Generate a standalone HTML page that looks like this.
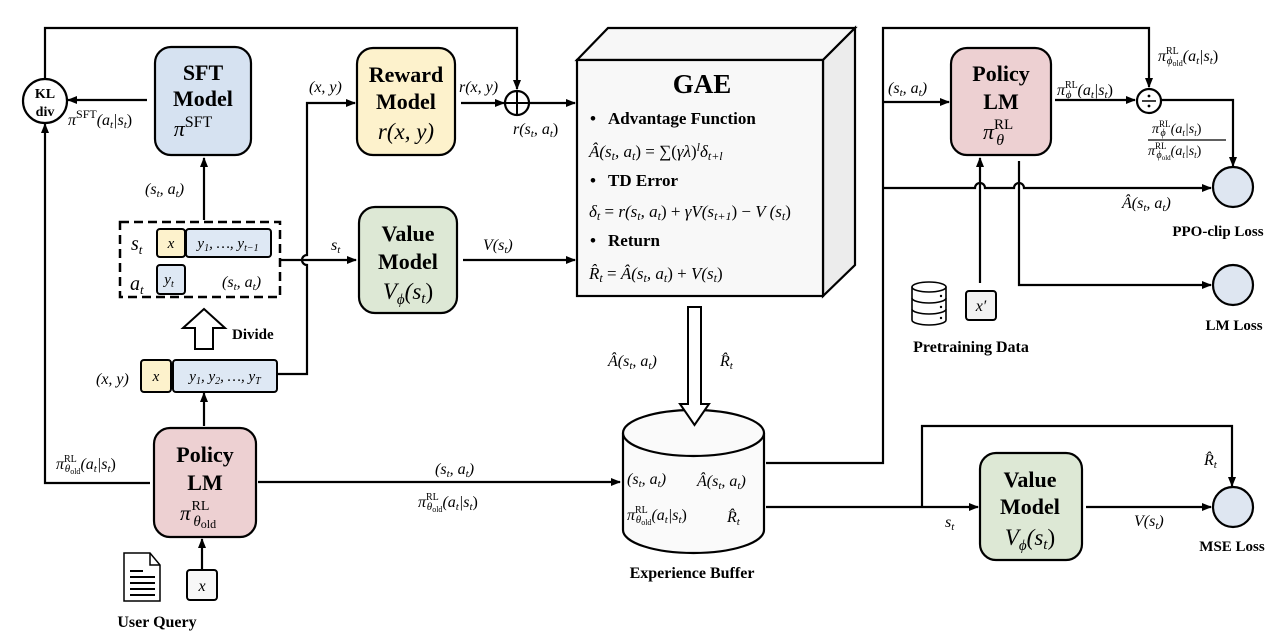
<!DOCTYPE html>
<html><head><meta charset="utf-8"><style>
html,body{margin:0;padding:0;background:#fff;width:1280px;height:638px;overflow:hidden}
svg text{font-family:"Liberation Serif",serif;fill:#000}
.b{font-weight:bold}
.i{font-style:italic}
</style></head><body>
<svg width="1280" height="638" viewBox="0 0 1280 638" xmlns="http://www.w3.org/2000/svg">
<defs>
<marker id="a" markerWidth="10" markerHeight="10" refX="9" refY="5" orient="auto" markerUnits="userSpaceOnUse">
<path d="M0,1 L10,5 L0,9 z" fill="#000"/></marker>
</defs>
<g fill="none" stroke="#000" stroke-width="2.2">
<path d="M45,79 V28 H517 V89" marker-end="url(#a)"/>
<path d="M147,100 H68" marker-end="url(#a)"/>
<path d="M150,483 H45 V124" marker-end="url(#a)"/>
<path d="M461,103 H504" marker-end="url(#a)"/>
<path d="M529,103 H575" marker-end="url(#a)"/>
<path d="M278,374 H307 V265 a5,5 0 0 1 0,-10 V103 H355" marker-end="url(#a)"/>
<path d="M281,260 H356" marker-end="url(#a)"/>
<path d="M463,260 H575" marker-end="url(#a)"/>
<path d="M204,220 V158" marker-end="url(#a)"/>
<path d="M204,426 V393" marker-end="url(#a)"/>
<path d="M202,569 V539" marker-end="url(#a)"/>
<path d="M258,482 H620" marker-end="url(#a)"/>
<path d="M766,463 H883 V28 H1149 V87" marker-end="url(#a)"/>
<path d="M883,102 H949" marker-end="url(#a)"/>
<path d="M883,188 H975 a5,5 0 0 1 10,0 H1014 a5,5 0 0 1 10,0 H1211" marker-end="url(#a)"/>
<path d="M1055,100 H1135" marker-end="url(#a)"/>
<path d="M1161,100 H1233 V166" marker-end="url(#a)"/>
<path d="M980,283 V158" marker-end="url(#a)"/>
<path d="M1019,161 V285 H1211" marker-end="url(#a)"/>
<path d="M766,507 H978" marker-end="url(#a)"/>
<path d="M922,507 V426 H1232 V486" marker-end="url(#a)"/>
<path d="M1086,507 H1211" marker-end="url(#a)"/>
</g>
<!-- KL circle -->
<circle cx="45" cy="101" r="22" fill="#fff" stroke="#000" stroke-width="2.2"/>
<text x="45" y="98" class="b" font-size="14" text-anchor="middle">KL</text>
<text x="45" y="116" class="b" font-size="14" text-anchor="middle">div</text>
<text x="68" y="125" font-size="16"><tspan class="i">π</tspan><tspan font-size="12" dy="-7">SFT</tspan><tspan dy="7" class="i">(a</tspan><tspan class="i" font-size="11" dy="3">t</tspan><tspan dy="-3" class="i">|s</tspan><tspan class="i" font-size="11" dy="3">t</tspan><tspan dy="-3">)</tspan></text>
<!-- SFT -->
<rect x="155" y="47" width="96" height="108" rx="16" fill="#d6e2f1" stroke="#000" stroke-width="2.2"/>
<text x="203" y="80" class="b" font-size="22" text-anchor="middle">SFT</text>
<text x="203" y="106" class="b" font-size="22" text-anchor="middle">Model</text>
<text x="193" y="136" font-size="22" text-anchor="middle"><tspan class="i">π</tspan><tspan font-size="16" dy="-9">SFT</tspan></text>
<!-- Reward -->
<rect x="357" y="48" width="98" height="107" rx="16" fill="#fdf2cc" stroke="#000" stroke-width="2.2"/>
<text x="406" y="82" class="b" font-size="22" text-anchor="middle">Reward</text>
<text x="406" y="109" class="b" font-size="22" text-anchor="middle">Model</text>
<text x="406" y="139" class="i" font-size="23" text-anchor="middle">r(x, y)</text>
<!-- Value -->
<rect x="359" y="207" width="98" height="106" rx="16" fill="#dde8d5" stroke="#000" stroke-width="2.2"/>
<text x="408" y="241" class="b" font-size="22" text-anchor="middle">Value</text>
<text x="408" y="269" class="b" font-size="22" text-anchor="middle">Model</text>
<text x="408" y="299" font-size="23" text-anchor="middle"><tspan class="i">V</tspan><tspan class="i" font-size="15" dy="5">ϕ</tspan><tspan dy="-5" class="i">(s</tspan><tspan class="i" font-size="15" dy="4">t</tspan><tspan dy="-4">)</tspan></text>
<!-- labels -->
<text x="309" y="92" class="i" font-size="16">(x, y)</text>
<text x="459" y="92" class="i" font-size="16">r(x, y)</text>
<text x="513" y="134" class="i" font-size="16">r(s<tspan font-size="11" dy="3">t</tspan><tspan dy="-3">, a</tspan><tspan font-size="11" dy="3">t</tspan><tspan dy="-3" font-style="normal">)</tspan></text>
<text x="331" y="250" class="i" font-size="16">s<tspan font-size="11" dy="3">t</tspan></text>
<text x="483" y="250" class="i" font-size="16">V(s<tspan font-size="11" dy="3">t</tspan><tspan dy="-3">)</tspan></text>
<text x="145" y="194" class="i" font-size="16">(s<tspan font-size="11" dy="3">t</tspan><tspan dy="-3">, a</tspan><tspan font-size="11" dy="3">t</tspan><tspan dy="-3">)</tspan></text>
<!-- plus circle -->
<circle cx="517" cy="103" r="12" fill="#fff" stroke="#000" stroke-width="2.2"/>
<path d="M505,103 H529 M517,91 V115" stroke="#000" stroke-width="2"/>
<!-- dashed box -->
<rect x="120" y="222" width="160" height="75" fill="none" stroke="#000" stroke-width="2.5" stroke-dasharray="9,5"/>
<text x="131" y="250" class="i" font-size="20">s<tspan font-size="13" dy="4">t</tspan></text>
<text x="130" y="290" class="i" font-size="20">a<tspan font-size="13" dy="4">t</tspan></text>
<rect x="157" y="229" width="28" height="28" rx="3" fill="#fdf2cc" stroke="#000" stroke-width="2"/>
<text x="171" y="248" class="i" font-size="15" text-anchor="middle">x</text>
<rect x="186" y="229" width="85" height="28" rx="3" fill="#dee8f4" stroke="#000" stroke-width="2"/>
<text x="228" y="248" class="i" font-size="15" text-anchor="middle">y<tspan font-size="10" dy="3">1</tspan><tspan dy="-3">, …, y</tspan><tspan font-size="10" dy="3">t−1</tspan></text>
<rect x="157" y="265" width="28" height="29" rx="3" fill="#dee8f4" stroke="#000" stroke-width="2"/>
<text x="169" y="284" class="i" font-size="15" text-anchor="middle">y<tspan font-size="10" dy="3">t</tspan></text>
<text x="222" y="287" class="i" font-size="16">(s<tspan font-size="11" dy="3">t</tspan><tspan dy="-3">, a</tspan><tspan font-size="11" dy="3">t</tspan><tspan dy="-3">)</tspan></text>
<!-- hollow up arrow Divide -->
<path d="M195,349 V328 H183 L204,309 L225,328 H213 V349 Z" fill="#fff" stroke="#000" stroke-width="2"/>
<text x="232" y="339" class="b" font-size="15">Divide</text>
<!-- token row -->
<text x="96" y="384" class="i" font-size="16">(x, y)</text>
<rect x="141" y="360" width="30" height="32" rx="3" fill="#fdf2cc" stroke="#000" stroke-width="2"/>
<text x="156" y="381" class="i" font-size="15" text-anchor="middle">x</text>
<rect x="173" y="360" width="104" height="32" rx="3" fill="#dee8f4" stroke="#000" stroke-width="2"/>
<text x="225" y="381" class="i" font-size="15" text-anchor="middle">y<tspan font-size="10" dy="3">1</tspan><tspan dy="-3">, y</tspan><tspan font-size="10" dy="3">2</tspan><tspan dy="-3">, …, y</tspan><tspan font-size="10" dy="3">T</tspan></text>
<!-- Policy LM old -->
<rect x="154" y="428" width="102" height="109" rx="16" fill="#edd0d2" stroke="#000" stroke-width="2.2"/>
<text x="205" y="462" class="b" font-size="22" text-anchor="middle">Policy</text>
<text x="205" y="490" class="b" font-size="22" text-anchor="middle">LM</text>
<text x="180" y="520" font-size="21"><tspan class="i">π</tspan><tspan font-size="14" dx="1" dy="-10">RL</tspan><tspan class="i" font-size="15" dx="-16" dy="16">θ</tspan><tspan font-size="12" dy="2">old</tspan></text>
<text x="56" y="469" font-size="16"><tspan class="i">π</tspan><tspan font-size="10" dy="-7">RL</tspan><tspan class="i" font-size="11" dx="-12" dy="10">θ</tspan><tspan font-size="8" dy="2">old</tspan><tspan class="i" dy="-5">(a</tspan><tspan class="i" font-size="11" dy="3">t</tspan><tspan dy="-3" class="i">|s</tspan><tspan class="i" font-size="11" dy="3">t</tspan><tspan dy="-3">)</tspan></text>
<!-- user query -->
<path d="M124,553 H150 L160,565 V601 H124 Z" fill="#fff" stroke="#000" stroke-width="1.5"/>
<path d="M150,553 V565 H160" fill="none" stroke="#000" stroke-width="1.5"/>
<path d="M130,571 H143 M130,577 H155 M130,583 H155 M130,589 H155 M130,595 H155" stroke="#000" stroke-width="2"/>
<rect x="187" y="570" width="30" height="30" rx="3" fill="#f7f7f7" stroke="#000" stroke-width="2"/>
<text x="202" y="591" class="i" font-size="16" text-anchor="middle">x</text>
<text x="157" y="627" class="b" font-size="16" text-anchor="middle">User Query</text>
<!-- middle labels -->
<text x="435" y="474" class="i" font-size="16">(s<tspan font-size="11" dy="3">t</tspan><tspan dy="-3">, a</tspan><tspan font-size="11" dy="3">t</tspan><tspan dy="-3">)</tspan></text>
<text x="418" y="507" font-size="16"><tspan class="i">π</tspan><tspan font-size="10" dy="-7">RL</tspan><tspan class="i" font-size="11" dx="-12" dy="10">θ</tspan><tspan font-size="8" dy="2">old</tspan><tspan class="i" dy="-5">(a</tspan><tspan class="i" font-size="11" dy="3">t</tspan><tspan dy="-3" class="i">|s</tspan><tspan class="i" font-size="11" dy="3">t</tspan><tspan dy="-3">)</tspan></text>
<!-- GAE box -->
<path d="M577,60 L608,28 H855 L823,60 Z" fill="#f7f7f7" stroke="#000" stroke-width="2.2"/>
<path d="M823,60 L855,28 V265 L823,296 Z" fill="#ececec" stroke="#000" stroke-width="2.2"/>
<rect x="577" y="60" width="246" height="236" fill="#f8f8f8" stroke="#000" stroke-width="2.2"/>
<text x="702" y="93" class="b" font-size="27" text-anchor="middle">GAE</text>
<text x="590" y="124" class="b" font-size="17">•</text>
<text x="608" y="124" class="b" font-size="17">Advantage Function</text>
<text x="589" y="157" class="i" font-size="17">Â(s<tspan font-size="12" dy="3">t</tspan><tspan dy="-3">, a</tspan><tspan font-size="12" dy="3">t</tspan><tspan dy="-3" font-style="normal">) = ∑(</tspan><tspan>γλ</tspan><tspan font-style="normal">)</tspan><tspan font-size="12" dy="-6">l</tspan><tspan dy="6">δ</tspan><tspan font-size="12" dy="3">t+l</tspan></text>
<text x="590" y="186" class="b" font-size="17">•</text>
<text x="608" y="186" class="b" font-size="17">TD Error</text>
<text x="589" y="217" class="i" font-size="17">δ<tspan font-size="12" dy="3">t</tspan><tspan dy="-3" font-style="normal"> = </tspan>r(s<tspan font-size="12" dy="3">t</tspan><tspan dy="-3">, a</tspan><tspan font-size="12" dy="3">t</tspan><tspan dy="-3" font-style="normal">) + </tspan>γV(s<tspan font-size="12" dy="3">t+1</tspan><tspan dy="-3" font-style="normal">) − </tspan>V (s<tspan font-size="12" dy="3">t</tspan><tspan dy="-3" font-style="normal">)</tspan></text>
<text x="590" y="246" class="b" font-size="17">•</text>
<text x="608" y="246" class="b" font-size="17">Return</text>
<text x="589" y="279" class="i" font-size="17">R̂<tspan font-size="12" dy="3">t</tspan><tspan dy="-3" font-style="normal"> = </tspan>Â(s<tspan font-size="12" dy="3">t</tspan><tspan dy="-3">, a</tspan><tspan font-size="12" dy="3">t</tspan><tspan dy="-3" font-style="normal">) + </tspan>V(s<tspan font-size="12" dy="3">t</tspan><tspan dy="-3" font-style="normal">)</tspan></text>
<text x="608" y="366" class="i" font-size="16">Â(s<tspan font-size="11" dy="3">t</tspan><tspan dy="-3">, a</tspan><tspan font-size="11" dy="3">t</tspan><tspan dy="-3">)</tspan></text>
<text x="720" y="366" class="i" font-size="16">R̂<tspan font-size="11" dy="3">t</tspan></text>
<!-- cylinder -->
<path d="M623,433 V530 A70.5,23 0 0 0 764,530 V433" fill="#fafafa" stroke="#000" stroke-width="2.2"/>
<ellipse cx="693.5" cy="433" rx="70.5" ry="23" fill="#fafafa" stroke="#000" stroke-width="2.2"/>
<!-- hollow down arrow -->
<path d="M688,307 H701 V404 H709 L694.5,425 L680,404 H688 Z" fill="#fff" stroke="#000" stroke-width="2"/>
<text x="627" y="484" class="i" font-size="16">(s<tspan font-size="11" dy="3">t</tspan><tspan dy="-3">, a</tspan><tspan font-size="11" dy="3">t</tspan><tspan dy="-3">)</tspan></text>
<text x="697" y="486" class="i" font-size="16">Â(s<tspan font-size="11" dy="3">t</tspan><tspan dy="-3">, a</tspan><tspan font-size="11" dy="3">t</tspan><tspan dy="-3">)</tspan></text>
<text x="627" y="520" font-size="16"><tspan class="i">π</tspan><tspan font-size="10" dy="-7">RL</tspan><tspan class="i" font-size="11" dx="-12" dy="10">θ</tspan><tspan font-size="8" dy="2">old</tspan><tspan class="i" dy="-5">(a</tspan><tspan class="i" font-size="11" dy="3">t</tspan><tspan dy="-3" class="i">|s</tspan><tspan class="i" font-size="11" dy="3">t</tspan><tspan dy="-3">)</tspan></text>
<text x="727" y="522" class="i" font-size="16">R̂<tspan font-size="11" dy="3">t</tspan></text>
<text x="692" y="578" class="b" font-size="16" text-anchor="middle">Experience Buffer</text>
<!-- Policy LM right -->
<rect x="951" y="48" width="100" height="107" rx="16" fill="#edd0d2" stroke="#000" stroke-width="2.2"/>
<text x="1001" y="81" class="b" font-size="22" text-anchor="middle">Policy</text>
<text x="1001" y="109" class="b" font-size="22" text-anchor="middle">LM</text>
<text x="983" y="139" font-size="22"><tspan class="i">π</tspan><tspan font-size="15" dy="-10">RL</tspan><tspan class="i" font-size="16" dx="-17" dy="16">θ</tspan></text>
<text x="888" y="93" class="i" font-size="16">(s<tspan font-size="11" dy="3">t</tspan><tspan dy="-3">, a</tspan><tspan font-size="11" dy="3">t</tspan><tspan dy="-3">)</tspan></text>
<text x="1057" y="95" font-size="16"><tspan class="i">π</tspan><tspan font-size="10" dy="-7">RL</tspan><tspan class="i" font-size="11" dx="-12" dy="10">ϕ</tspan><tspan class="i" dx="6" dy="-3">(a</tspan><tspan class="i" font-size="11" dy="3">t</tspan><tspan dy="-3" class="i">|s</tspan><tspan class="i" font-size="11" dy="3">t</tspan><tspan dy="-3">)</tspan></text>
<text x="1158" y="61" font-size="16"><tspan class="i">π</tspan><tspan font-size="10" dy="-7">RL</tspan><tspan class="i" font-size="11" dx="-12" dy="10">ϕ</tspan><tspan font-size="8" dy="2">old</tspan><tspan class="i" dy="-5">(a</tspan><tspan class="i" font-size="11" dy="3">t</tspan><tspan dy="-3" class="i">|s</tspan><tspan class="i" font-size="11" dy="3">t</tspan><tspan dy="-3">)</tspan></text>
<!-- divide circle -->
<circle cx="1149" cy="101" r="12" fill="#fff" stroke="#000" stroke-width="2.2"/>
<path d="M1142,101 H1156" stroke="#000" stroke-width="1.5"/>
<circle cx="1149" cy="96" r="1.4"/><circle cx="1149" cy="106" r="1.4"/>
<!-- fraction -->
<text x="1152" y="133" font-size="14"><tspan class="i">π</tspan><tspan font-size="9" dy="-6">RL</tspan><tspan class="i" font-size="10" dx="-10" dy="9">ϕ</tspan><tspan class="i" dx="5" dy="-3">(a</tspan><tspan class="i" font-size="9" dy="3">t</tspan><tspan dy="-3" class="i">|s</tspan><tspan class="i" font-size="9" dy="3">t</tspan><tspan dy="-3">)</tspan></text>
<path d="M1148,140 H1226" stroke="#000" stroke-width="1.3"/>
<text x="1148" y="155" font-size="14"><tspan class="i">π</tspan><tspan font-size="9" dy="-6">RL</tspan><tspan class="i" font-size="10" dx="-10" dy="9">ϕ</tspan><tspan font-size="7" dy="2">old</tspan><tspan class="i" dy="-5">(a</tspan><tspan class="i" font-size="9" dy="3">t</tspan><tspan dy="-3" class="i">|s</tspan><tspan class="i" font-size="9" dy="3">t</tspan><tspan dy="-3">)</tspan></text>
<text x="1122" y="208" class="i" font-size="16">Â(s<tspan font-size="11" dy="3">t</tspan><tspan dy="-3">, a</tspan><tspan font-size="11" dy="3">t</tspan><tspan dy="-3">)</tspan></text>
<!-- loss circles -->
<circle cx="1233" cy="187" r="20" fill="#dee6f1" stroke="#000" stroke-width="2.2"/>
<text x="1218" y="236" class="b" font-size="15" text-anchor="middle">PPO-clip Loss</text>
<circle cx="1233" cy="285" r="20" fill="#dee6f1" stroke="#000" stroke-width="2.2"/>
<text x="1234" y="330" class="b" font-size="15" text-anchor="middle">LM Loss</text>
<circle cx="1233" cy="507" r="20" fill="#dee6f1" stroke="#000" stroke-width="2.2"/>
<text x="1232" y="551" class="b" font-size="15" text-anchor="middle">MSE Loss</text>
<!-- database -->
<g fill="#fff" stroke="#000" stroke-width="1.6">
<path d="M912,287 V320 A17,5 0 0 0 946,320 V287"/>
<ellipse cx="929" cy="287" rx="17" ry="5"/>
<path d="M912,298 A17,5 0 0 0 946,298 M912,309 A17,5 0 0 0 946,309"/>
</g>
<circle cx="941" cy="296" r="1.2"/><circle cx="941" cy="307" r="1.2"/><circle cx="941" cy="318" r="1.2"/>
<rect x="966" y="291" width="30" height="29" rx="3" fill="#f2f2f2" stroke="#000" stroke-width="2"/>
<text x="981" y="311" class="i" font-size="16" text-anchor="middle">x′</text>
<text x="971" y="352" class="b" font-size="16" text-anchor="middle">Pretraining Data</text>
<!-- value right -->
<rect x="980" y="453" width="102" height="107" rx="16" fill="#dde8d5" stroke="#000" stroke-width="2.2"/>
<text x="1030" y="487" class="b" font-size="22" text-anchor="middle">Value</text>
<text x="1030" y="514" class="b" font-size="22" text-anchor="middle">Model</text>
<text x="1030" y="545" font-size="23" text-anchor="middle"><tspan class="i">V</tspan><tspan class="i" font-size="15" dy="5">ϕ</tspan><tspan dy="-5" class="i">(s</tspan><tspan class="i" font-size="15" dy="4">t</tspan><tspan dy="-4">)</tspan></text>
<text x="945" y="527" class="i" font-size="16">s<tspan font-size="11" dy="3">t</tspan></text>
<text x="1134" y="526" class="i" font-size="16">V(s<tspan font-size="11" dy="3">t</tspan><tspan dy="-3">)</tspan></text>
<text x="1204" y="465" class="i" font-size="16">R̂<tspan font-size="11" dy="3">t</tspan></text>
</svg>
</body></html>
